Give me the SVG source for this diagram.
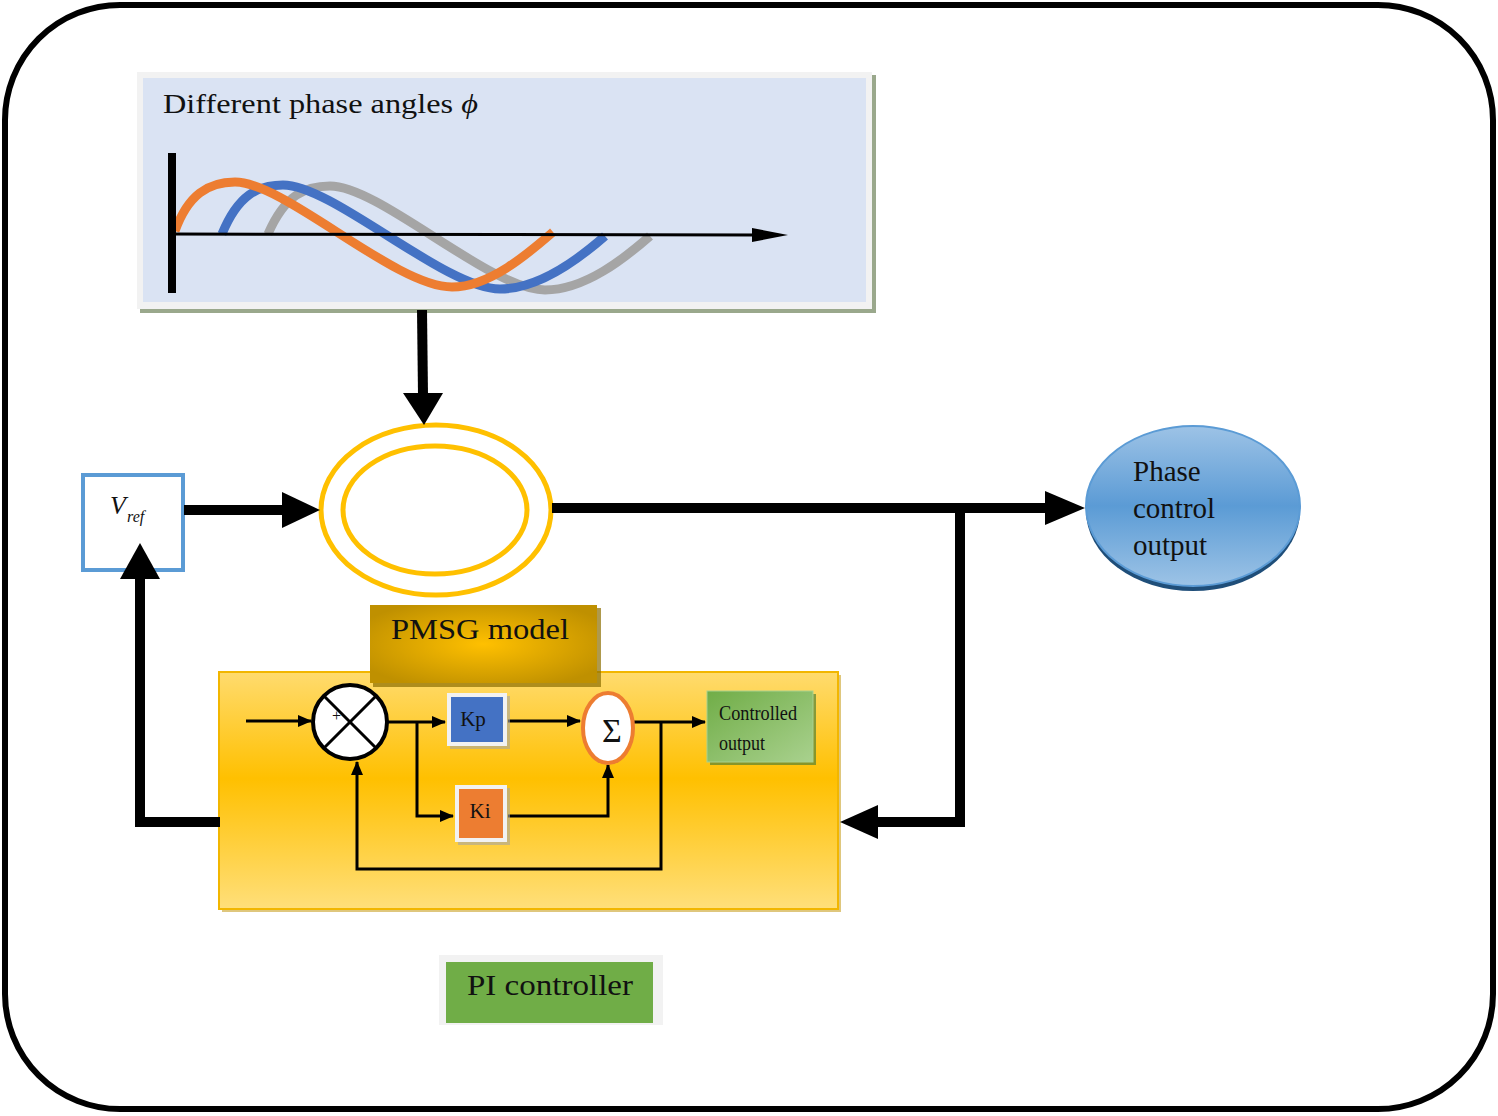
<svg xmlns="http://www.w3.org/2000/svg" width="1498" height="1116" viewBox="0 0 1498 1116">
<style>
.t{font-family:"Liberation Serif",serif;fill:#111}
.thin{stroke:#000;stroke-width:3;fill:none}
.thick{stroke:#000;stroke-width:10;fill:none}
.wave{fill:none;stroke-width:9}
</style>
<defs>
<marker id="s" markerWidth="14" markerHeight="12" refX="13" refY="6" orient="auto" markerUnits="userSpaceOnUse"><path d="M0,0 L14,6 L0,12 Z"/></marker>
<linearGradient id="yel" x1="0" y1="0" x2="0" y2="1"><stop offset="0" stop-color="#ffdb6e"/><stop offset="0.45" stop-color="#ffc000"/><stop offset="1" stop-color="#ffdf7a"/></linearGradient>
<radialGradient id="gold" cx="0.5" cy="0.5" r="0.6"><stop offset="0" stop-color="#ffc000"/><stop offset="1" stop-color="#bf9000"/></radialGradient>
<linearGradient id="blu" x1="0" y1="0" x2="0" y2="1"><stop offset="0" stop-color="#9dc3e6"/><stop offset="0.5" stop-color="#5b9bd5"/><stop offset="1" stop-color="#9dc3e6"/></linearGradient>
<linearGradient id="grn" x1="0" y1="0" x2="1" y2="1"><stop offset="0" stop-color="#70ad47"/><stop offset="1" stop-color="#a9d18e"/></linearGradient>
</defs>
<rect x="5" y="5" width="1488" height="1104" rx="115" fill="#fff" stroke="#000" stroke-width="6"/>

<g id="phase-panel">
<rect x="140" y="75" width="736" height="238" fill="#9aa88c"/>
<rect x="137" y="72" width="735" height="237" fill="#f2f2f2"/>
<rect x="143" y="78" width="723" height="224" fill="#dae3f3"/>
<text class="t" x="163" y="113" font-size="28" textLength="315" lengthAdjust="spacingAndGlyphs">Different phase angles <tspan font-style="italic">ϕ</tspan></text>
<path class="wave" stroke="#a5a5a5" d="M268,234 C285,195 305,186 330,186 C380,186 490,290 545,290 C585,290 625,258 650,236"/>
<path class="wave" stroke="#4472c4" d="M222,234 C238,195 258,185 283,185 C333,185 445,289 500,289 C540,289 580,258 605,236"/>
<path class="wave" stroke="#ed7d31" d="M175,231 C188,195 208,182 235,182 C285,182 395,287 452,287 C490,287 530,252 553,232"/>
<line x1="172" y1="153" x2="172" y2="293" stroke="#000" stroke-width="8"/>
<line x1="172" y1="234" x2="760" y2="235" stroke="#000" stroke-width="3"/>
<path d="M752,228 L788,235 L752,242 Z"/>
</g>

<g id="vref">
<rect x="83" y="475" width="100" height="95" fill="#fff" stroke="#5b9bd5" stroke-width="4"/>
<text class="t" x="110" y="514" font-size="26" font-style="italic">V</text>
<text class="t" x="127" y="522" font-size="16" font-style="italic">ref</text>
</g>

<g id="pmsg-ring">
<ellipse cx="436" cy="510" rx="115" ry="85" fill="#fff" stroke="#ffc000" stroke-width="5"/>
<ellipse cx="435" cy="510" rx="92" ry="64" fill="#fff" stroke="#ffc000" stroke-width="5"/>
</g>

<g id="phase-output">
<ellipse cx="1193" cy="511" rx="107" ry="80" fill="#1f4e79"/>
<ellipse cx="1193" cy="506" rx="107" ry="80" fill="url(#blu)" stroke="#5b9bd5" stroke-width="2"/>
<text class="t" x="1133" y="481" font-size="29">Phase</text>
<text class="t" x="1133" y="518" font-size="29">control</text>
<text class="t" x="1133" y="555" font-size="29">output</text>
</g>

<g id="pi-block">
<rect x="222" y="675" width="619" height="237" fill="#c9a227" opacity="0.6"/>
<rect x="219" y="672" width="619" height="237" fill="url(#yel)" stroke="#f2b600" stroke-width="2"/>
</g>

<g id="pmsg-label">
<rect x="373" y="608" width="228" height="79" fill="#8c6d00" opacity="0.7"/>
<rect x="370" y="605" width="227" height="78" fill="url(#gold)"/>
<text class="t" x="480" y="639" font-size="29" text-anchor="middle" textLength="178" lengthAdjust="spacingAndGlyphs">PMSG model</text>
</g>

<g id="connectors">
<line class="thick" x1="422" y1="310" x2="423" y2="395"/>
<path d="M403,393 L443,393 L424,425 Z"/>
<line class="thick" x1="184" y1="510" x2="285" y2="510"/>
<path d="M282,492 L320,510 L282,528 Z"/>
<line class="thick" x1="552" y1="508" x2="1048" y2="508"/>
<path d="M1045,491 L1085,508 L1045,525 Z"/>
<polyline class="thick" points="960,508 960,822 876,822"/>
<path d="M878,805 L840,822 L878,839 Z"/>
<polyline class="thick" points="220,822 140,822 140,578"/>
<path d="M120,579 L140,543 L160,579 Z"/>
</g>

<g id="pi-connectors">
<line class="thin" x1="246" y1="721" x2="311" y2="721" marker-end="url(#s)"/>
<line class="thin" x1="388" y1="722" x2="445" y2="722" marker-end="url(#s)"/>
<polyline class="thin" points="417,722 417,816 453,816" marker-end="url(#s)"/>
<line class="thin" x1="508" y1="721" x2="580" y2="721" marker-end="url(#s)"/>
<polyline class="thin" points="508,816 608,816 608,765" marker-end="url(#s)"/>
<line class="thin" x1="634" y1="722" x2="705" y2="722" marker-end="url(#s)"/>
<polyline class="thin" points="661,722 661,869 357,869 357,762" marker-end="url(#s)"/>
</g>

<g id="summer">
<circle cx="350" cy="722" r="37" fill="#fff" stroke="#000" stroke-width="4"/>
<line class="thin" x1="324" y1="696" x2="376" y2="748" stroke-width="4"/>
<line class="thin" x1="376" y1="696" x2="324" y2="748" stroke-width="4"/>
<text class="t" x="332" y="721" font-size="16">+</text>
</g>

<g id="kp">
<rect x="450" y="696" width="60" height="53" fill="#a5a5a5" opacity="0.6"/>
<rect x="447" y="693" width="60" height="53" fill="#f2f2f2"/>
<rect x="451" y="697" width="52" height="45" fill="#4472c4"/>
<text class="t" x="473" y="726" font-size="21" text-anchor="middle">Kp</text>
</g>

<g id="ki">
<rect x="458" y="788" width="52" height="57" fill="#a5a5a5" opacity="0.6"/>
<rect x="455" y="785" width="52" height="57" fill="#f2f2f2"/>
<rect x="459" y="789" width="44" height="49" fill="#ed7d31"/>
<text class="t" x="480" y="818" font-size="21" text-anchor="middle">Ki</text>
</g>

<g id="sigma">
<ellipse cx="608" cy="728" rx="25" ry="35" fill="#fff" stroke="#ed7d31" stroke-width="4"/>
<text class="t" x="612" y="742" font-size="34" text-anchor="middle">Σ</text>
</g>

<g id="controlled-output">
<rect x="710" y="694" width="106" height="71" fill="#548235" opacity="0.7"/>
<rect x="707" y="691" width="106" height="71" fill="url(#grn)" stroke="#a9d18e" stroke-width="1"/>
<text class="t" x="719" y="720" font-size="20" textLength="78" lengthAdjust="spacingAndGlyphs">Controlled</text>
<text class="t" x="719" y="750" font-size="20" textLength="46" lengthAdjust="spacingAndGlyphs">output</text>
</g>

<g id="pi-controller">
<rect x="439" y="955" width="224" height="70" fill="#f2f2f2"/>
<rect x="446" y="962" width="207" height="61" fill="#70ad47"/>
<text class="t" x="550" y="995" font-size="29" text-anchor="middle" textLength="166" lengthAdjust="spacingAndGlyphs">PI controller</text>
</g>
</svg>
